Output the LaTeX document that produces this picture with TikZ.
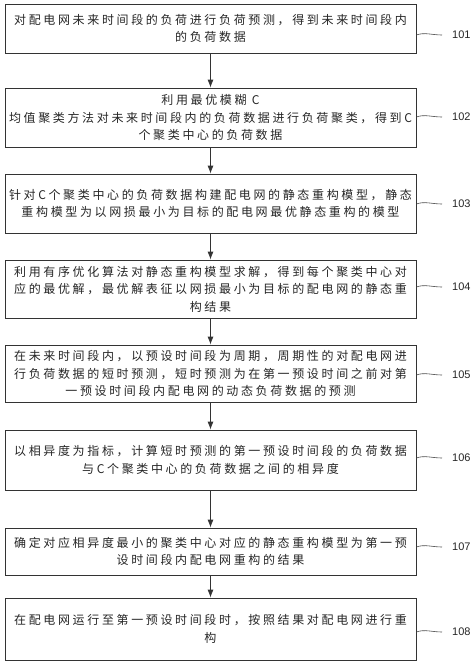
\documentclass[tikz,border=0pt]{standalone}
\usepackage{fontspec}
\newfontfamily\cjk{Noto Sans CJK SC}[LetterSpace=22]
\newfontfamily\numfont{Liberation Sans}
\usetikzlibrary{arrows.meta}
\tikzset{
    stepbox/.style={draw=black!80,line width=0.8pt,minimum width=411pt,inner sep=0pt,
        align=center,text=black!85,font=\cjk\fontsize{12pt}{17.5pt}\selectfont},
    tag/.style={anchor=west,inner sep=0pt,text=black!85,font=\numfont\fontsize{11pt}{13pt}\selectfont},
    flow/.style={draw=black!80,line width=0.8pt,-{Latex[length=8pt,width=6pt]}},
    lead/.style={draw=black!70,line width=0.6pt}
}
\begin{document}
\begin{tikzpicture}[x=1pt,y=-1pt]
        \useasboundingbox[fill=white] (0,0) rectangle (474,665);
        \node[stepbox,minimum height=49pt] (b1) at (210.5,28.5) {对配电网未来时间段的负荷进行负荷预测，得到未来时间段内\\的负荷数据};
        \node[stepbox,minimum height=59pt] (b2) at (210.5,117.5) {利用最优模糊 C\\均值聚类方法对未来时间段内的负荷数据进行负荷聚类，得到C\\个聚类中心的负荷数据};
        \node[stepbox,minimum height=59pt] (b3) at (210.5,203.5) {针对C个聚类中心的负荷数据构建配电网的静态重构模型，静态\\重构模型为以网损最小为目标的配电网最优静态重构的模型};
        \node[stepbox,minimum height=58pt] (b4) at (210.5,289) {利用有序优化算法对静态重构模型求解，得到每个聚类中心对\\应的最优解，最优解表征以网损最小为目标的配电网的静态重\\构结果};
        \node[stepbox,minimum height=57pt] (b5) at (210.5,373.5) {在未来时间段内，以预设时间段为周期，周期性的对配电网进\\行负荷数据的短时预测，短时预测为在第一预设时间之前对第\\一预设时间段内配电网的动态负荷数据的预测};
        \node[stepbox,minimum height=60pt] (b6) at (210.5,460) {以相异度为指标，计算短时预测的第一预设时间段的负荷数据\\与C个聚类中心的负荷数据之间的相异度};
        \node[stepbox,minimum height=47pt] (b7) at (210.5,551.5) {确定对应相异度最小的聚类中心对应的静态重构模型为第一预\\设时间段内配电网重构的结果};
        \node[stepbox,minimum height=62pt] (b8) at (210.5,629) {在配电网运行至第一预设时间段时，按照结果对配电网进行重\\构};
        % step numbers
        \node[tag] (l1) at (452,35) {101};
        \node[tag] (l2) at (452,117) {102};
        \node[tag] (l3) at (452,204) {103};
        \node[tag] (l4) at (452,287) {104};
        \node[tag] (l5) at (452,375) {105};
        \node[tag] (l6) at (452,458) {106};
        \node[tag] (l7) at (452,547) {107};
        \node[tag] (l8) at (452,632) {108};
        \draw[lead] (b1.east |- l1) .. controls +(8,-3) and +(-10,0) .. ([xshift=-10pt]l1.west);
        \draw[lead] (b2.east |- l2) .. controls +(8,-3) and +(-10,0) .. ([xshift=-10pt]l2.west);
        \draw[lead] (b3.east |- l3) .. controls +(8,-3) and +(-10,0) .. ([xshift=-10pt]l3.west);
        \draw[lead] (b4.east |- l4) .. controls +(8,-3) and +(-10,0) .. ([xshift=-10pt]l4.west);
        \draw[lead] (b5.east |- l5) .. controls +(8,-3) and +(-10,0) .. ([xshift=-10pt]l5.west);
        \draw[lead] (b6.east |- l6) .. controls +(8,-3) and +(-10,0) .. ([xshift=-10pt]l6.west);
        \draw[lead] (b7.east |- l7) .. controls +(8,-3) and +(-10,0) .. ([xshift=-10pt]l7.west);
        \draw[lead] (b8.east |- l8) .. controls +(8,-3) and +(-10,0) .. ([xshift=-10pt]l8.west);
        % flow
        \draw[flow] (b1) -- (b2);
        \draw[flow] (b2) -- (b3);
        \draw[flow] (b3) -- (b4);
        \draw[flow] (b4) -- (b5);
        \draw[flow] (b5) -- (b6);
        \draw[flow] (b6) -- (b7);
        \draw[flow] (b7) -- (b8);
\end{tikzpicture}
\end{document}
